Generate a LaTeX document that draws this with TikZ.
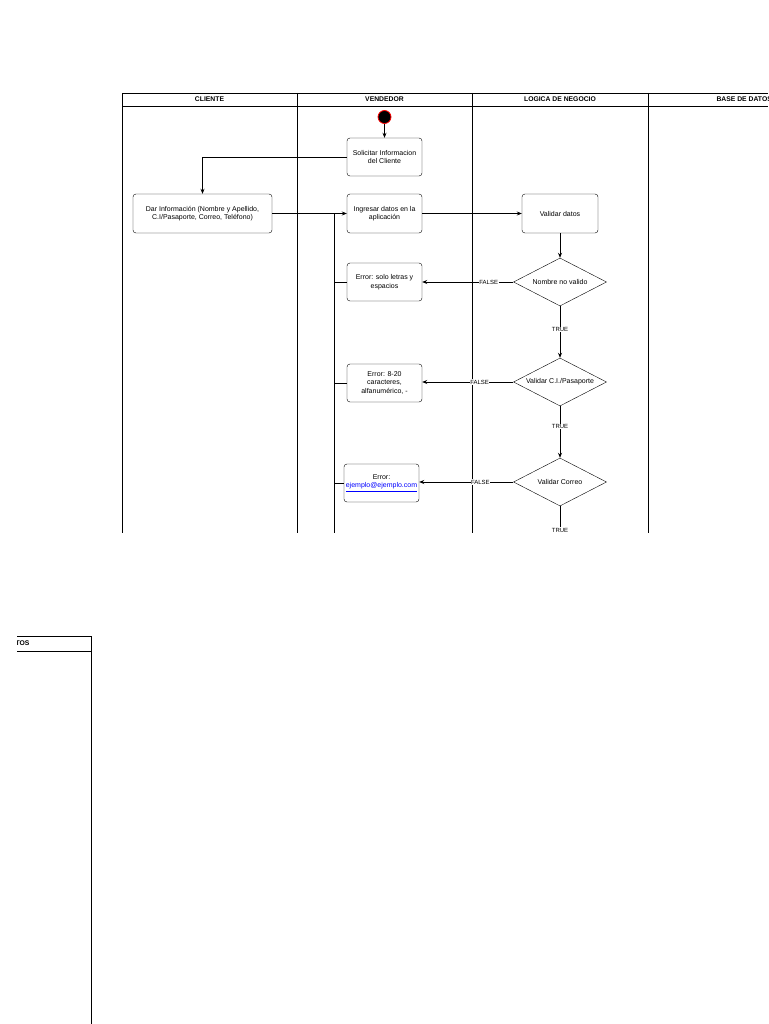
\documentclass[tikz,border=0pt]{standalone}
\usepackage{fontspec}
\setmainfont{Liberation Sans}
\usetikzlibrary{shapes.geometric,arrows.meta}
\begin{document}
\begin{tikzpicture}[x=1pt,y=-1pt,
  lane/.style={line width=0.7pt},
  box/.style={draw,rounded corners=3pt,minimum width=75pt,minimum height=38pt,align=center,font=\fontsize{7}{8.5}\selectfont,inner sep=1pt},
  dia/.style={draw,diamond,aspect=2,minimum width=93pt,minimum height=48pt,inner sep=0pt,font=\fontsize{7}{8.5}\selectfont},
  arr/.style={-{Stealth[length=5pt,width=4pt]},line width=0.7pt},
  ln/.style={line width=0.7pt},
  lbl/.style={fill=white,inner sep=0.5pt,font=\fontsize{6}{7}\selectfont},
  hdr/.style={font=\bfseries\fontsize{6.8}{8}\selectfont}]
\useasboundingbox (0,0) rectangle (768,1024);
\begin{scope}
\clip (0,0) rectangle (768,532);
\draw[lane] (768,93) -- (122,93) -- (122,540);
\draw[lane] (122,106) -- (768,106);
\foreach \x in {297,472,648}{\draw[lane] (\x,93) -- (\x,540);}
\node[hdr] (h1) at (209.5,99.5) {CLIENTE};
\node[hdr] (h2) at (384.5,99.5) {VENDEDOR};
\node[hdr] (h3) at (560,99.5) {LOGICA DE NEGOCIO};
\node[hdr,anchor=west] (h4) at (713,99.5) {BASE DE DATOS};
\node[circle,fill=black,draw=red,line width=0.8pt,minimum size=13pt,inner sep=0pt] (st) at (384.5,117) {};
\node[box] (sol) at (384.5,157) {Solicitar Informacion\\del Cliente};
\node[box,minimum width=139pt,minimum height=39pt] (dar) at (202.5,213.5) {Dar Información (Nombre y Apellido,\\C.I/Pasaporte, Correo, Teléfono)};
\node[box,minimum height=39pt] (ing) at (384.5,213.5) {Ingresar datos en la\\aplicación};
\node[box,minimum width=76pt,minimum height=39pt] (val) at (560,213.5) {Validar datos};
\node[dia] (nom) at (560,282) {Nombre no valido};
\node[box] (e1) at (384.5,282) {Error: solo letras y\\espacios};
\node[dia] (ci) at (560,382) {Validar C.I./Pasaporte};
\node[box] (e2) at (384.5,383) {Error: 8-20\\caracteres,\\alfanumérico, -};
\node[box] (e3) at (381.5,483) {Error:\\{\color{blue}\underline{ejemplo@ejemplo.com}}};
\node[dia] (co) at (560,482) {Validar Correo};
\coordinate (jn) at (334,213.5);
\coordinate (bt) at (334,540);
\coordinate (cb) at (560,540);
\draw[arr] (st) -- (sol);
\draw[arr] (sol.west) -| (dar.north);
\draw[arr] (dar) -- (ing);
\draw[arr] (ing) -- (val);
\draw[arr] (val) -- (nom);
\draw[ln] (jn) -- (bt);
\draw[ln] (334,282) -- (e1.west);
\draw[ln] (334,383) -- (e2.west);
\draw[ln] (334,483) -- (e3.west);
\draw[arr] (nom.west) -- node[lbl,pos=0.27]{FALSE} (e1.east);
\draw[arr] (ci.west) -- node[lbl,pos=0.37]{FALSE} (ci.west -| e2.east);
\draw[arr] (co.west) -- node[lbl,pos=0.35]{FALSE} (co.west -| e3.east);
\draw[arr] (nom.south) -- node[lbl,pos=0.45]{TRUE} (ci.north);
\draw[arr] (ci.south) -- node[lbl,pos=0.4]{TRUE} (co.north);
\draw[ln] (co.south) -- (cb);
\node[lbl] (t3) at (560,530) {TRUE};
\end{scope}
\draw[lane] (17,636) -- (91,636) -- (91,1024);
\draw[lane] (17,651) -- (91,651);
\begin{scope}
\clip (17,630) rectangle (91,660);
\node[hdr,anchor=east] (h5) at (33,643.5) {BASE DE DATOS};
\end{scope}
\end{tikzpicture}
\end{document}
